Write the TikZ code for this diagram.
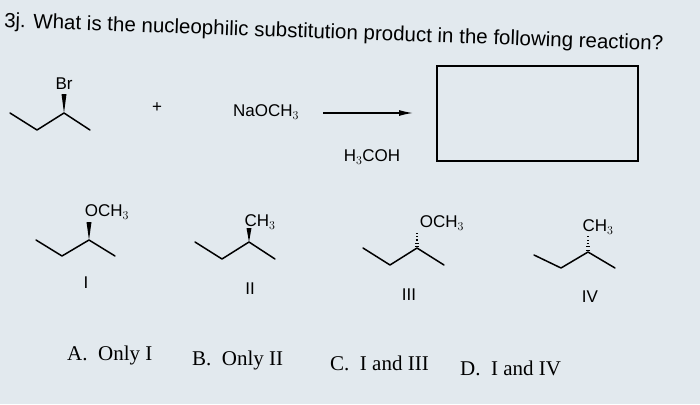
\documentclass[tikz,border=0pt]{standalone}
\usepackage{fontspec}
\usetikzlibrary{arrows.meta,calc}
\setmainfont{Liberation Serif}
\newfontfamily\arial{Liberation Sans}
\begin{document}
\begin{tikzpicture}[x=1pt,y=-1pt,
  bond/.style={line width=1.5pt,line cap=round,line join=round},
  lab/.style={font=\arial\fontsize{17}{18}\selectfont,inner sep=0pt},
  ans/.style={font=\fontsize{21}{22}\selectfont,inner sep=0pt,anchor=west}]
\fill[fill={rgb,255:red,226;green,233;blue,238}] (0,0) rectangle (700,404);
\useasboundingbox (0,0) rectangle (700,404);
\node[font=\arial\fontsize{20.5}{21}\selectfont,anchor=west,inner sep=0pt,rotate=-2] (title) at (4,22) {3j. What is the nucleophilic substitution product in the following reaction?};
% reactant
\node[lab] (br) at (64,84) {Br};
\draw[bond] (10,113)--(37,130)--(64,113)--(90,130);
\fill (64,113)--(61.5,94)--(66.5,94)--cycle;
\node[lab,font=\arial\fontsize{17}{18}\selectfont] (plus) at (157,108) {+};
\node[lab] (na) at (266,112) {NaOCH$_3$};
\coordinate (a1) at (323,113); \coordinate (a2) at (413,113);
\draw[line width=1.3pt,-{Latex[length=14pt,width=6pt]}] (a1)--(a2);
\node[lab] (sol) at (372,157) {H$_3$COH};
\node[draw,line width=1.3pt,minimum width=201pt,minimum height=95pt] (box) at (537.5,113.5) {};
% I
\node[lab] (o1) at (107,212) {OCH$_3$};
\draw[bond] (36,240)--(62,256)--(89,240)--(115,256);
\fill (89,240)--(86.5,222)--(91.5,222)--cycle;
\node[lab] (n1) at (86,283) {I};
% II
\node[lab] (c2) at (260,222) {CH$_3$};
\draw[bond] (195,242)--(222,259)--(249,242)--(275,259);
\fill (249,242)--(246.5,228)--(251.5,228)--cycle;
\node[lab] (n2) at (250,289) {II};
% III
\node[lab] (o3) at (442,223) {OCH$_3$};
\draw[bond] (363,248)--(390,265)--(417,248)--(444,265);
\foreach \t/\w in {0.1/2.2,0.3/1.8,0.5/1.4,0.7/1.0,0.9/0.7}
  \draw[line width=1.1pt] ($(417,248)!\t!(417,232)$) ++(-\w,0) -- ++(2*\w,0);
\node[lab] (n3) at (409,295) {III};
% IV
\node[lab] (c4) at (598,227) {CH$_3$};
\draw[bond] (534,255)--(561,268)--(588,252)--(615,268);
\foreach \t/\w in {0.1/2.2,0.3/1.8,0.5/1.4,0.7/1.0,0.9/0.7}
  \draw[line width=1.1pt] ($(588,252)!\t!(588,235)$) ++(-\w,0) -- ++(2*\w,0);
\node[lab] (n4) at (590,297) {IV};
% answers
\node[ans] (A) at (67,355) {A.\ \ Only I};
\node[ans] (B) at (192,360) {B.\ \ Only II};
\node[ans] (C) at (330,363) {C.\ \ I and III};
\node[ans] (D) at (460,368) {D.\ \ I and IV};
\end{tikzpicture}
\end{document}
